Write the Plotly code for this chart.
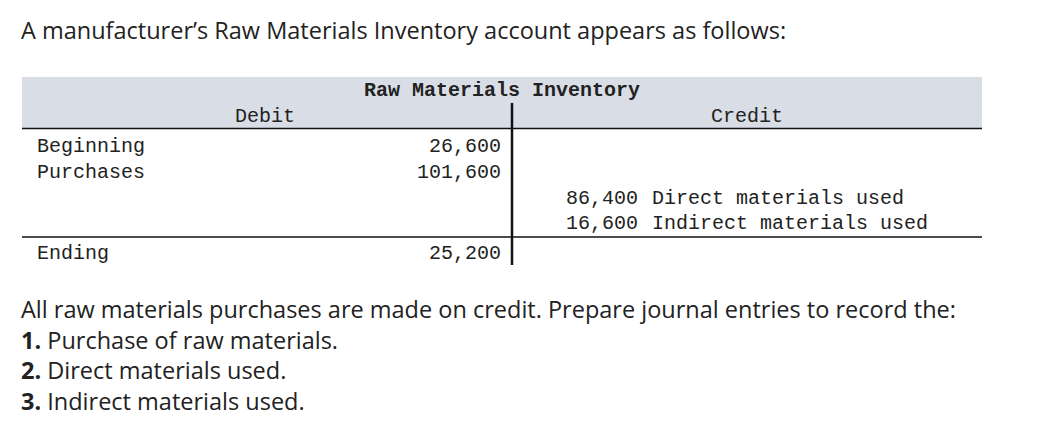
import plotly.graph_objects as go

title = "A manufacturer\u2019s Raw Materials Inventory account appears as follows:"
account = "Raw Materials Inventory"
debit_labels = ["Beginning", "Purchases"]
debit_values = ["26,600", "101,600"]
credit_values = ["86,400", "16,600"]
credit_labels = ["Direct materials used", "Indirect materials used"]
ending_label = "Ending"
ending_value = "25,200"
notes = [
    "All raw materials purchases are made on credit. Prepare journal entries to record the:",
    "<b>1.</b> Purchase of raw materials.",
    "<b>2.</b> Direct materials used.",
    "<b>3.</b> Indirect materials used.",
]

# page has an 8px body margin, so shift everything back
OFF = 8
mono = dict(family="Liberation Mono", size=20, color="#222")
sans = dict(family="Open Sans", size=23.5, color="#222")

fig = go.Figure()
ann = []
def add(x, y, t, xa="left", f=mono):
    ann.append(dict(x=x - OFF, y=y - OFF, text=t, xanchor=xa, yanchor="middle",
                    showarrow=False, font=f, borderpad=0))

add(20, 30, title, f=sans)
add(502, 90, "<b>" + account + "</b>", xa="center")
add(265, 116, "Debit", xa="center")
add(747, 116, "Credit", xa="center")
for i, (l, v) in enumerate(zip(debit_labels, debit_values)):
    y = 146 + i * 26
    add(36, y, l)
    add(502, y, v, xa="right")
for i, (v, l) in enumerate(zip(credit_values, credit_labels)):
    y = 198 + i * 25.5
    add(639, y, v, xa="right")
    add(651, y, l)
add(36, 253, ending_label)
add(502, 253, ending_value, xa="right")
for i, n in enumerate(notes):
    add(20, 309 + i * 30.5, n, f=sans)

shapes = [
    dict(type="rect", x0=22 - OFF, x1=982 - OFF, y0=77 - OFF, y1=128 - OFF,
         fillcolor="#d9dde6", line=dict(width=0), layer="below"),
    dict(type="line", x0=22 - OFF, x1=982 - OFF, y0=128.5 - OFF, y1=128.5 - OFF, line=dict(color="#111", width=1.5)),
    dict(type="line", x0=22 - OFF, x1=982 - OFF, y0=237 - OFF, y1=237 - OFF, line=dict(color="#111", width=1.5)),
    dict(type="line", x0=512 - OFF, x1=512 - OFF, y0=103 - OFF, y1=265 - OFF, line=dict(color="#111", width=2.5)),
]

fig.update_layout(
    width=1042, height=444, margin=dict(l=0, r=0, t=0, b=0),
    paper_bgcolor="white", plot_bgcolor="white",
    xaxis=dict(range=[0, 1042], visible=False, fixedrange=True),
    yaxis=dict(range=[444, 0], visible=False, fixedrange=True),
    annotations=ann, shapes=shapes, showlegend=False,
)
fig.write_html("out.html")
